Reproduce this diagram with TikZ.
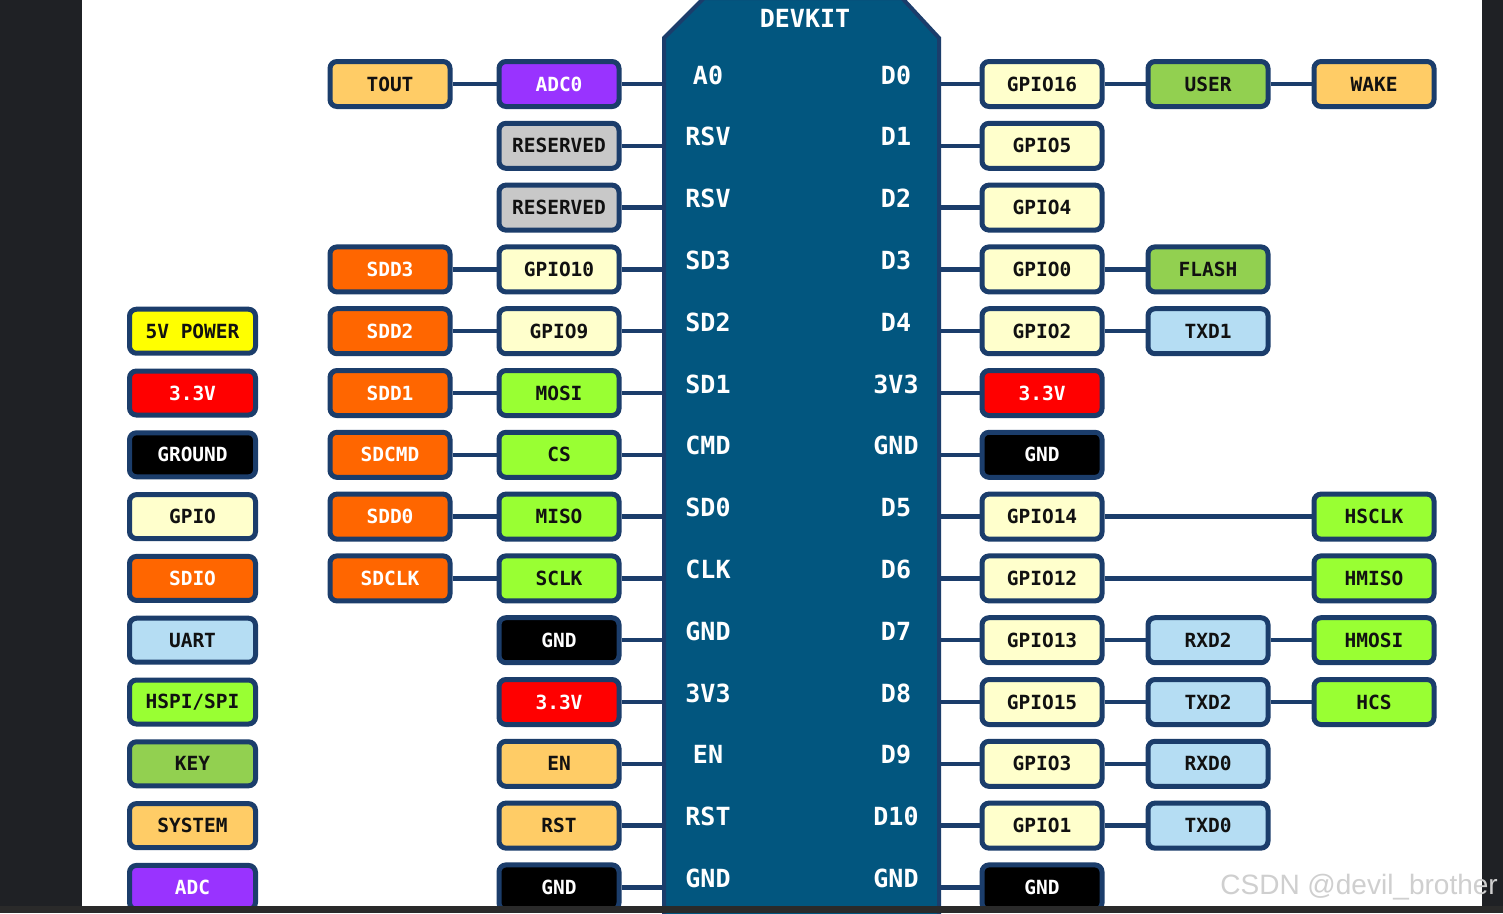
\documentclass[tikz,border=0pt]{standalone}
\usepackage{fontspec}
\newfontfamily\monofont{DejaVu Sans Mono}
\newfontfamily\markfont{Liberation Sans}

% palette
\definecolor{navy}{HTML}{1B3D6B}
\definecolor{boardblue}{HTML}{02567F}
\definecolor{frame}{HTML}{1F2125}
\definecolor{framebot}{HTML}{2A2A2A}
\definecolor{sysorange}{HTML}{FFCC66}
\definecolor{adcpurple}{HTML}{9933FF}
\definecolor{rsvgray}{HTML}{C8C8C8}
\definecolor{sdorange}{HTML}{FF6600}
\definecolor{gpiocream}{HTML}{FFFFCC}
\definecolor{spilime}{HTML}{99FF33}
\definecolor{pwryellow}{HTML}{FFFF00}
\definecolor{pwrred}{HTML}{FF0000}
\definecolor{uartblue}{HTML}{B5DDF3}
\definecolor{keygreen}{HTML}{92D050}
\definecolor{ink}{HTML}{111111}
\definecolor{markgray}{HTML}{CFCFCF}

\tikzset{
  pinbox/.style={draw=navy, line width=5pt, rounded corners=7pt,
    minimum width=120pt, minimum height=45pt, inner sep=0pt,
    text=ink, font=\monofont\bfseries\fontsize{19.5}{19.5}\selectfont},
  legendbox/.style={pinbox, minimum width=126pt, minimum height=44pt},
  whitetext/.style={text=white},
  sys/.style={fill=sysorange},
  adc/.style={fill=adcpurple, whitetext},
  rsv/.style={fill=rsvgray},
  sd/.style={fill=sdorange, whitetext},
  gpio/.style={fill=gpiocream},
  spi/.style={fill=spilime},
  pwr/.style={fill=pwryellow},
  vcc/.style={fill=pwrred, whitetext},
  gnd/.style={fill=black, whitetext},
  uart/.style={fill=uartblue},
  key/.style={fill=keygreen},
  link/.style={draw=navy, line width=4.5pt},
  pinlabel/.style={text=white, inner sep=0pt,
    font=\monofont\bfseries\fontsize{25}{25}\selectfont},
}

\begin{document}
\begin{tikzpicture}[x=1pt,y=-1pt]
\useasboundingbox (0,0) rectangle (1503,913);
\clip (0,0) rectangle (1503,913);
\fill[white] (0,0) rectangle (1503,913);

% board body with chamfered top corners
\draw[navy, line width=4pt, fill=boardblue]
  (664,930) -- (664,38) -- (704,-2) -- (902,-2) -- (939,38) -- (939,930) -- cycle;
\node[pinlabel] (devkit) at (805,18) {DEVKIT};

% row positions
\foreach \i/\y in {0/84,1/145.8,2/207.6,3/269.4,4/331.2,5/393,6/454.8,
                   7/516.6,8/578.4,9/640.2,10/702,11/763.8,12/825.6,13/887.4}{
  \coordinate (bl\i) at (664,\y);
  \coordinate (br\i) at (939,\y);
}

% pin names printed on the board
\foreach \i/\l/\r in {0/A0/D0,1/RSV/D1,2/RSV/D2,3/SD3/D3,4/SD2/D4,5/SD1/3V3,
                      6/CMD/GND,7/SD0/D5,8/CLK/D6,9/GND/D7,10/3V3/D8,11/EN/D9,
                      12/RST/D10,13/GND/GND}{
  \node[pinlabel] (pl\i) at ([shift={(44,-9)}]bl\i) {\l};
  \node[pinlabel] (pr\i) at ([shift={(-43,-9)}]br\i) {\r};
}

% legend column
\node[legendbox, pwr]  (a4)  at (192.5,331.2) {5V POWER};
\node[legendbox, vcc]  (a5)  at (192.5,393)   {3.3V};
\node[legendbox, gnd]  (a6)  at (192.5,454.8) {GROUND};
\node[legendbox, gpio] (a7)  at (192.5,516.6) {GPIO};
\node[legendbox, sd]   (a8)  at (192.5,578.4) {SDIO};
\node[legendbox, uart] (a9)  at (192.5,640.2) {UART};
\node[legendbox, spi]  (a10) at (192.5,702)   {HSPI/SPI};
\node[legendbox, key]  (a11) at (192.5,763.8) {KEY};
\node[legendbox, sys]  (a12) at (192.5,825.6) {SYSTEM};
\node[legendbox, adc]  (a13) at (192.5,887.4) {ADC};

% outer left column
\node[pinbox, sys] (b0) at (390,84)    {TOUT};
\node[pinbox, sd]  (b3) at (390,269.4) {SDD3};
\node[pinbox, sd]  (b4) at (390,331.2) {SDD2};
\node[pinbox, sd]  (b5) at (390,393)   {SDD1};
\node[pinbox, sd]  (b6) at (390,454.8) {SDCMD};
\node[pinbox, sd]  (b7) at (390,516.6) {SDD0};
\node[pinbox, sd]  (b8) at (390,578.4) {SDCLK};

% inner left column
\node[pinbox, adc]  (c0)  at (559,84)    {ADC0};
\node[pinbox, rsv]  (c1)  at (559,145.8) {RESERVED};
\node[pinbox, rsv]  (c2)  at (559,207.6) {RESERVED};
\node[pinbox, gpio] (c3)  at (559,269.4) {GPIO10};
\node[pinbox, gpio] (c4)  at (559,331.2) {GPIO9};
\node[pinbox, spi]  (c5)  at (559,393)   {MOSI};
\node[pinbox, spi]  (c6)  at (559,454.8) {CS};
\node[pinbox, spi]  (c7)  at (559,516.6) {MISO};
\node[pinbox, spi]  (c8)  at (559,578.4) {SCLK};
\node[pinbox, gnd]  (c9)  at (559,640.2) {GND};
\node[pinbox, vcc]  (c10) at (559,702)   {3.3V};
\node[pinbox, sys]  (c11) at (559,763.8) {EN};
\node[pinbox, sys]  (c12) at (559,825.6) {RST};
\node[pinbox, gnd]  (c13) at (559,887.4) {GND};

% inner right column
\node[pinbox, gpio] (d0)  at (1042,84)    {GPIO16};
\node[pinbox, gpio] (d1)  at (1042,145.8) {GPIO5};
\node[pinbox, gpio] (d2)  at (1042,207.6) {GPIO4};
\node[pinbox, gpio] (d3)  at (1042,269.4) {GPIO0};
\node[pinbox, gpio] (d4)  at (1042,331.2) {GPIO2};
\node[pinbox, vcc]  (d5)  at (1042,393)   {3.3V};
\node[pinbox, gnd]  (d6)  at (1042,454.8) {GND};
\node[pinbox, gpio] (d7)  at (1042,516.6) {GPIO14};
\node[pinbox, gpio] (d8)  at (1042,578.4) {GPIO12};
\node[pinbox, gpio] (d9)  at (1042,640.2) {GPIO13};
\node[pinbox, gpio] (d10) at (1042,702)   {GPIO15};
\node[pinbox, gpio] (d11) at (1042,763.8) {GPIO3};
\node[pinbox, gpio] (d12) at (1042,825.6) {GPIO1};
\node[pinbox, gnd]  (d13) at (1042,887.4) {GND};

% middle right column
\node[pinbox, key]  (e0)  at (1208,84)    {USER};
\node[pinbox, key]  (e3)  at (1208,269.4) {FLASH};
\node[pinbox, uart] (e4)  at (1208,331.2) {TXD1};
\node[pinbox, uart] (e9)  at (1208,640.2) {RXD2};
\node[pinbox, uart] (e10) at (1208,702)   {TXD2};
\node[pinbox, uart] (e11) at (1208,763.8) {RXD0};
\node[pinbox, uart] (e12) at (1208,825.6) {TXD0};

% outer right column
\node[pinbox, sys] (f0)  at (1374,84)    {WAKE};
\node[pinbox, spi] (f7)  at (1374,516.6) {HSCLK};
\node[pinbox, spi] (f8)  at (1374,578.4) {HMISO};
\node[pinbox, spi] (f9)  at (1374,640.2) {HMOSI};
\node[pinbox, spi] (f10) at (1374,702)   {HCS};

% connectors
\foreach \i in {0,3,4,5,6,7,8}{ \draw[link] (b\i.east) -- (c\i.west); }
\foreach \i in {0,...,13}{
  \draw[link] (c\i.east) -- (bl\i);
  \draw[link] (br\i) -- (d\i.west);
}
\foreach \i in {0,3,4,9,10,11,12}{ \draw[link] (d\i.east) -- (e\i.west); }
\foreach \i in {0,9,10}{ \draw[link] (e\i.east) -- (f\i.west); }
\foreach \i in {7,8}{ \draw[link] (d\i.east) -- (f\i.west); }

% surrounding dark frame
\fill[frame] (0,0) rectangle (82,913);
\fill[frame] (1482,0) rectangle (1503,913);
\fill[framebot] (0,906) rectangle (1503,913);

\node[text=markgray, inner sep=0pt, anchor=east,
      font=\markfont\fontsize{28}{28}\selectfont] (mark) at (1498,887) {CSDN @devil\_brother};
\end{tikzpicture}
\end{document}
